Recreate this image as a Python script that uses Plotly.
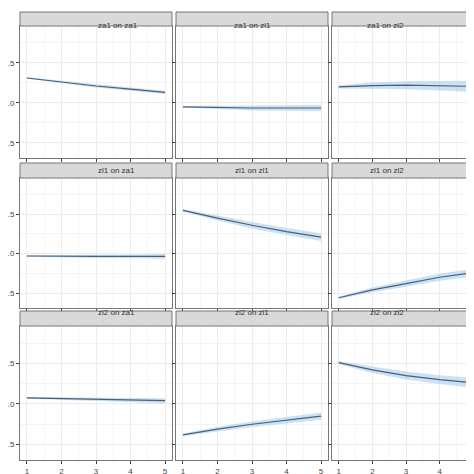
import plotly.graph_objects as go

steps = [1, 2, 3, 4, 5]
titles = ["za1 on za1", "za1 on zl1", "za1 on zl2",
          "zl1 on za1", "zl1 on zl1", "zl1 on zl2",
          "zl2 on za1", "zl2 on zl1", "zl2 on zl2"]
est = [
    [0.31, 0.26, 0.21, 0.17, 0.13],
    [-0.05, -0.06, -0.065, -0.065, -0.065],
    [0.20, 0.215, 0.22, 0.215, 0.205],
    [-0.03, -0.035, -0.035, -0.035, -0.035],
    [0.55, 0.45, 0.36, 0.28, 0.21],
    [-0.56, -0.46, -0.38, -0.30, -0.24],
    [0.075, 0.065, 0.06, 0.05, 0.04],
    [-0.38, -0.31, -0.25, -0.20, -0.15],
    [0.51, 0.42, 0.35, 0.30, 0.26],
]
half = [
    [0.01, 0.015, 0.02, 0.02, 0.02],
    [0.01, 0.02, 0.03, 0.035, 0.04],
    [0.02, 0.04, 0.05, 0.06, 0.07],
    [0.01, 0.015, 0.02, 0.025, 0.03],
    [0.015, 0.03, 0.04, 0.045, 0.05],
    [0.015, 0.03, 0.04, 0.045, 0.05],
    [0.01, 0.015, 0.02, 0.025, 0.03],
    [0.015, 0.03, 0.035, 0.04, 0.045],
    [0.02, 0.04, 0.05, 0.055, 0.06],
]

W = H = 474
L, R, T, B = 12, 2, 4, 22
pw, ph = W - L - R, H - T - B
cols = [(12, 164), (168, 320), (324, 472)]
rows = [((4, 18), (18, 150)), ((155, 170), (170, 300)), ((303, 318), (318, 452))]
fx = lambda p: (p - L) / pw
fy = lambda p: (H - B - p) / ph

fig = go.Figure()
shapes, annots = [], []
for i in range(9):
    r, c = divmod(i, 3)
    n = i + 1
    xa, ya = ("x" if n == 1 else f"x{n}"), ("y" if n == 1 else f"y{n}")
    lo = [e - h for e, h in zip(est[i], half[i])]
    hi = [e + h for e, h in zip(est[i], half[i])]
    fig.add_trace(go.Scatter(x=steps, y=hi, mode="lines", line=dict(width=0), xaxis=xa, yaxis=ya,
                             showlegend=False, hoverinfo="skip"))
    fig.add_trace(go.Scatter(x=steps, y=lo, mode="lines", line=dict(width=0), fill="tonexty",
                             fillcolor="rgba(158,202,235,0.55)", xaxis=xa, yaxis=ya, showlegend=False))
    fig.add_trace(go.Scatter(x=steps, y=est[i], mode="lines", line=dict(color="#4a5f78", width=1.2),
                             xaxis=xa, yaxis=ya, showlegend=False))
    x0, x1 = cols[c]
    (s0, s1), (p0, p1) = rows[r]
    kx = "xaxis" if n == 1 else f"xaxis{n}"
    ky = "yaxis" if n == 1 else f"yaxis{n}"
    fig.layout[kx] = dict(domain=[fx(x0), fx(x1)], anchor=ya, range=[0.8, 5.2], automargin=False,
                          tickvals=steps, showticklabels=(r == 2), ticks="outside", ticklen=3,
                          tickcolor="#444", tickfont=dict(size=8, color="#444"),
                          gridcolor="#ececec", zeroline=False, showline=True, linecolor="#777",
                          mirror=True, minor=dict(showgrid=True, gridcolor="#f5f5f5", dtick=0.5))
    fig.layout[ky] = dict(domain=[fy(p1), fy(p0)], anchor=xa, range=[-0.69, 0.96], automargin=False,
                          tickvals=[-0.5, 0, 0.5], ticktext=["-0.5", "0.0", "0.5"],
                          showticklabels=(c == 0), ticks="outside", ticklen=3, tickcolor="#444",
                          tickfont=dict(size=8, color="#444"), gridcolor="#ececec", zeroline=False,
                          showline=True, linecolor="#777", mirror=True,
                          minor=dict(showgrid=True, gridcolor="#f5f5f5", dtick=0.25))
    shapes.append(dict(type="rect", xref="paper", yref="paper", x0=fx(x0), x1=fx(x1),
                       y0=fy(s1), y1=fy(s0), fillcolor="#d9d9d9", line=dict(color="#777", width=1)))
    annots.append(dict(text=titles[i], xref="paper", yref="paper", x=(fx(x0) + fx(x1)) / 2,
                       y=(fy(s0) + fy(s1)) / 2, showarrow=False, font=dict(size=8, color="#333")))
annots.append(dict(text="steps", xref="paper", yref="paper", x=(fx(168) + fx(320)) / 2,
                   y=fy(469), yanchor="middle", showarrow=False, font=dict(size=8, color="#333")))
fig.update_layout(width=W, height=H, margin=dict(l=L, r=R, t=T, b=B), paper_bgcolor="white",
                  plot_bgcolor="white", shapes=shapes, annotations=annots,
                  font=dict(family="Liberation Sans"))
fig.write_html("out.html")
